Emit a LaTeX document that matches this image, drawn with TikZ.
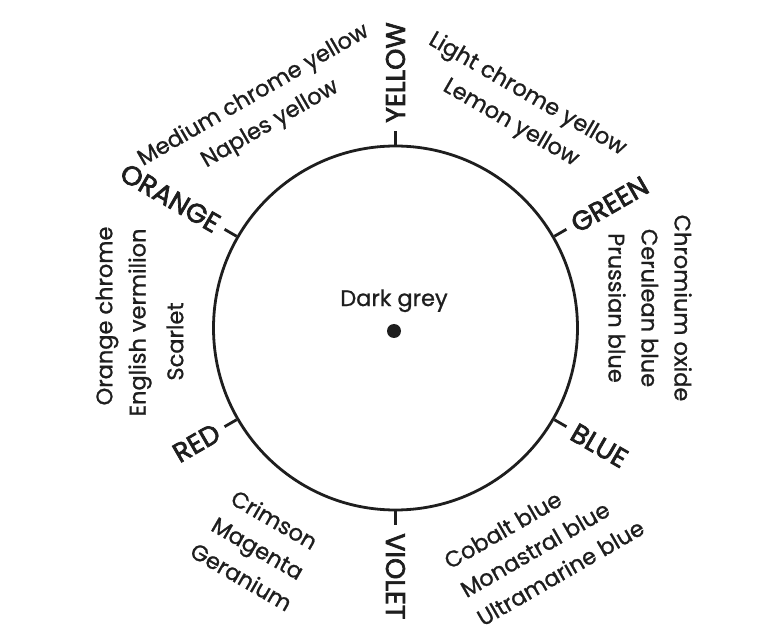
\documentclass[tikz,border=0pt]{standalone}
\usepackage{fontspec}
\setmainfont{Poppins}[FakeBold=1]
\newfontfamily\huefont{Poppins}[FakeBold=2.5]
\usetikzlibrary{positioning}
\definecolor{Ink}{HTML}{1E1E1E}
\tikzset{
    wheel/.style = {draw, circle, line width=2.8pt, minimum size=364pt, inner sep=0pt},
    tick/.style = {draw, line width=2.8pt},
    hue/.style = {inner sep=0pt, font=\huefont\fontsize{27}{30}\selectfont},
    pigment/.style = {inner sep=0pt, align=center, font=\fontsize{22.5}{33}\selectfont},
    dot/.style = {circle, fill, inner sep=0pt, minimum size=14pt}
}

\begin{document}
\begin{tikzpicture}[x=1pt, y=1pt, Ink]
    \useasboundingbox (-395.5,-311) rectangle (385.5,328);
    \node [wheel] (wheel) at (0,0) {};
    \node [dot] (centre) at (-1.5,-3) {};
    \node [pigment, above=11.5pt of centre] (grey) {Dark grey};
    % primary and secondary hues round the wheel
    \foreach \ang/\hue in {90/YELLOW, 30/GREEN, -30/BLUE, -90/VIOLET}{
        \draw [tick] (wheel.\ang) -- ++(\ang:14);
        \node [hue, rotate=\ang, anchor=west] (\hue) at (\ang:205) {\hue};
    }
    \foreach \ang/\hue in {150/ORANGE, 210/RED}{
        \draw [tick] (wheel.\ang) -- ++(\ang:14);
        \node [hue, rotate=\ang-180, anchor=east] (\hue) at (\ang:205) {\hue};
    }
    % pigments between the hues
    \node [pigment, rotate=30] (yellows) at (-133.5,218) {Medium chrome yellow\\Naples yellow};
    \node [pigment, rotate=-30] (lemons) at (123.5,219) {Light chrome yellow\\Lemon yellow};
    \node [pigment, rotate=-90] (greens) at (254.5,20) {Chromium oxide\\Cerulean blue\\Prussian blue};
    \node [pigment, rotate=30, align=left] (blues) at (148.5,-216) {Cobalt blue\\Monastral blue\\Ultramarine blue};
    \node [pigment, rotate=-30] (reds) at (-137.5,-220) {Crimson\\Magenta\\Geranium};
    \node [pigment, rotate=90] (orangechrome) at (-288.5,12) {Orange chrome};
    \node [pigment, rotate=90] (vermilion) at (-255.5,5.5) {English vermilion};
    \node [pigment, rotate=90] (scarlet) at (-220.5,-13.5) {Scarlet};
\end{tikzpicture}
\end{document}
